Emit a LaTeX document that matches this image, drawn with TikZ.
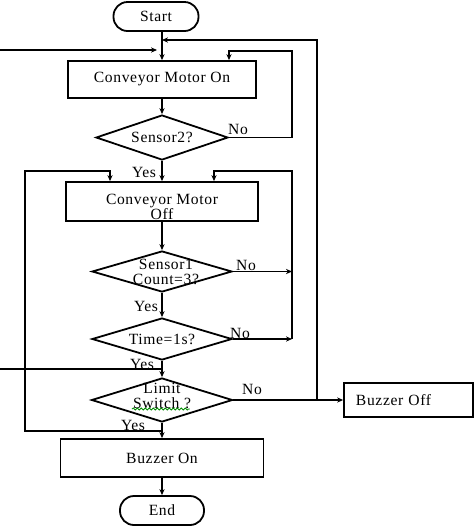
\documentclass[tikz,border=0pt]{standalone}
\usepackage{fontspec}
\setmainfont{Liberation Serif}[LetterSpace=4]
\usetikzlibrary{shapes.geometric,arrows.meta,calc,decorations.pathmorphing}

\begin{document}
\begin{tikzpicture}[
    x=0.5pt, y=-0.5pt,
    box/.style={rectangle, draw, line width=0.9pt, inner sep=0pt, align=center},
    term/.style={rectangle, draw, rounded corners=7pt, line width=0.9pt, inner sep=0pt, minimum height=14.5pt},
    dec/.style={diamond, draw, line width=0.9pt, inner sep=0pt},
    >={Stealth[length=3pt,width=2.6pt]}, line width=0.6pt,
    font=\fontsize{7.8}{7.5}\selectfont
]
    \useasboundingbox (0,0) rectangle (474,527);

    \node[term, minimum width=42.5pt] (start) at (156,16.5) {Start};
    \node[box, minimum width=94pt, minimum height=18.5pt] (cmon) at (162,79.5) {Conveyor Motor On};
    \node[dec, minimum width=66pt, minimum height=22.5pt, label={center:Sensor2?}] (s2) at (162,137.5) {};
    \node[box, minimum width=96pt, minimum height=19.5pt, label={[align=center, yshift=-2.5pt]center:Conveyor Motor\\Off}] (off) at (162,201.5) {};
    \node[dec, minimum width=70pt, minimum height=20.5pt, label={[align=center, xshift=2pt]center:Sensor1\\Count=3?}] (s1) at (162,271.5) {};
    \node[dec, minimum width=70pt, minimum height=21pt, label={center:Time=1s?}] (t1) at (162,339) {};
    \node[dec, minimum width=70.5pt, minimum height=22pt, label={[align=center, yshift=2pt]center:Limit\\Switch ?}] (lim) at (162,400) {};
    \node[box, minimum width=101.5pt, minimum height=19pt] (bon) at (162,458) {Buzzer On};
    \node[term, minimum width=42pt] (endn) at (162,510.5) {End};
    \node[box, text width=52.5pt, inner xsep=6pt, align=left, minimum height=17pt] (boff) at (408.5,400) {Buzzer Off};

    \coordinate (inTop) at (0,50);
    \coordinate (inMid) at (0,369);
    \coordinate (retR) at (317,40);
    \coordinate (loopR) at (292,171);
    \coordinate (loopL) at (25,171);
    \coordinate (loopLb) at (25,431);

    \draw[->] (start.south -| cmon.north) -- (cmon.north);
    \draw[->] (cmon.south) -- (s2.north);
    \draw[->] (s2.south) -- (off.north);
    \draw[->] (off.south) -- (s1.north);
    \draw[->] (s1.south) -- (t1.north);
    \draw[->] (t1.south) -- (lim.north);
    \draw[->] (lim.south) -- (bon.north);
    \draw[->] (bon.south) -- (endn.north);
    \draw[->] (lim.east) -- (boff.west);

    % loops
    \draw[->, shorten >=2.5pt] (inTop) -- (inTop -| cmon.north);
    \draw[->] (lim.east -| retR) -- (retR) -- (retR -| cmon.north);
    \draw[->] (s2.east) -| (292,51) -| ($(cmon.north)+(67,0)$);
    \draw[->] (t1.east -| loopR) -- (loopR) -| ($(off.north)+(52,0)$);
    \draw[->] (s1.east) -- (s1.east -| loopR);
    \draw[->] (t1.east) -- (t1.east -| loopR);
    \draw (inMid) -- (inMid -| t1.south);
    \draw[->] (lim.south |- loopLb) -- (loopLb) -- (loopL) -| ($(off.north)+(-52,0)$);

    % Labels
    \node (ns2) at (238,129) {No};
    \node (ys2) at (144,172) {Yes};
    \node (ns1) at (246,265) {No};
    \node (ys1) at (146,306) {Yes};
    \node (nt1) at (240,333) {No};
    \node (yt1) at (142,364) {Yes};
    \node (nlim) at (252,389) {No};
    \node (ylim) at (133,425) {Yes};
    \draw[green!55!black, line width=0.4pt, decorate, decoration={snake, amplitude=0.5pt, segment length=2pt}]
        ($(lim)+(-30,9)$) -- ($(lim)+(28,9)$);
\end{tikzpicture}
\end{document}
